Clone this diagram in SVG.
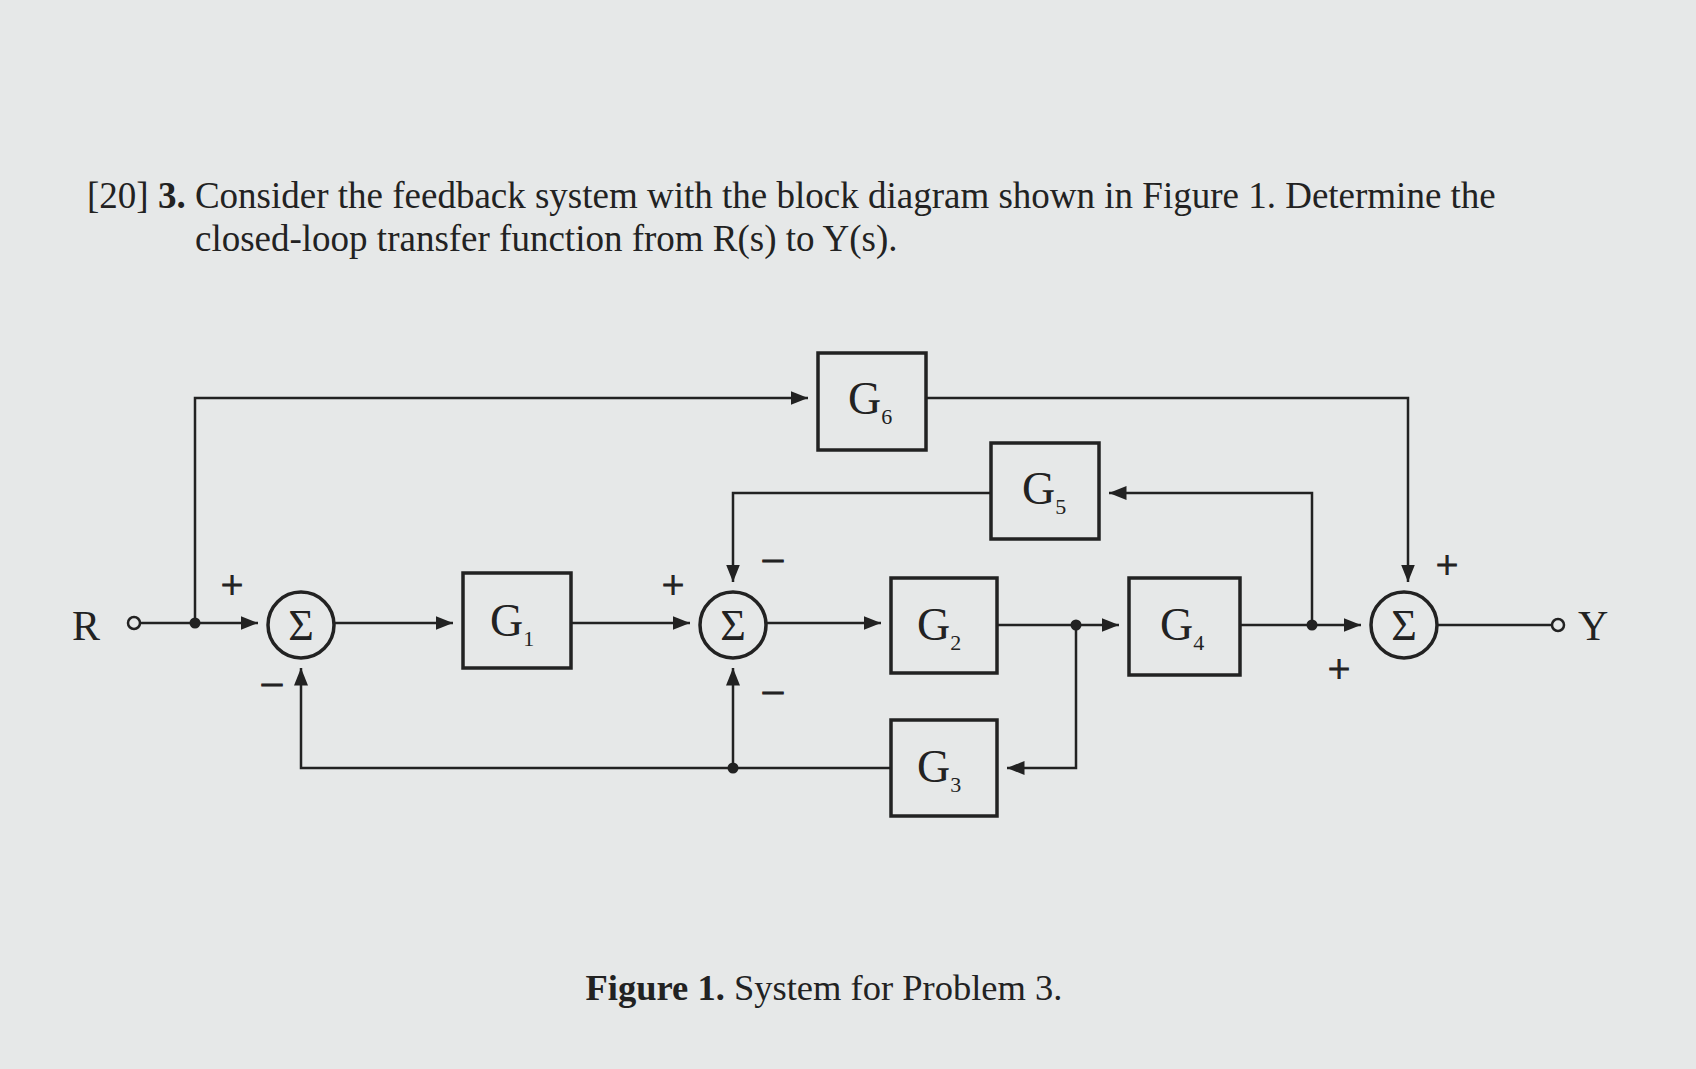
<svg xmlns="http://www.w3.org/2000/svg" width="1696" height="1069" viewBox="0 0 1696 1069">
<defs>
<style>
text{font-family:"Liberation Serif","Times New Roman",serif;fill:#222}
.b{fill:none;stroke:#222;stroke-width:3.5}
.w{fill:none;stroke:#222;stroke-width:2.5}
.g{font-size:46px}
.sub{font-size:22px}
.s{font-size:44px}
.sig{font-size:40px;stroke:#222;stroke-width:1}
</style>
<marker id="a" viewBox="0 0 10 10" refX="10" refY="5" markerWidth="7" markerHeight="7" orient="auto-start-reverse" markerUnits="strokeWidth"><path d="M0,1 L10,5 L0,9 z" fill="#222"/></marker>
</defs>
<rect width="1696" height="1069" fill="#e6e8e8"/>
<text x="87" y="208" font-size="37">[20] <tspan font-weight="bold">3.</tspan> Consider the feedback system with the block diagram shown in Figure 1. Determine the</text>
<text x="195" y="251" font-size="37">closed-loop transfer function from R(s) to Y(s).</text>
<g id="connectors">
<path class="w" d="M140,623 H258" marker-end="url(#a)"/>
<path class="w" d="M195,623 V398 H808" marker-end="url(#a)"/>
<path class="w" d="M334,623 H453" marker-end="url(#a)"/>
<path class="w" d="M571,623 H690" marker-end="url(#a)"/>
<path class="w" d="M766,623 H881" marker-end="url(#a)"/>
<path class="w" d="M997,625 H1119" marker-end="url(#a)"/>
<path class="w" d="M1240,625 H1361" marker-end="url(#a)"/>
<path class="w" d="M1437,625 H1552"/>
<path class="w" d="M926,398 H1408 V582" marker-end="url(#a)"/>
<path class="w" d="M1312,625 V493 H1109" marker-end="url(#a)"/>
<path class="w" d="M991,493 H733 V582" marker-end="url(#a)"/>
<path class="w" d="M1076,625 V768 H1007" marker-end="url(#a)"/>
<path class="w" d="M891,768 H301 V668" marker-end="url(#a)"/>
<path class="w" d="M733,768 V668" marker-end="url(#a)"/>
<circle cx="195" cy="623" r="5.5" fill="#222"/>
<circle cx="1076" cy="625" r="5.5" fill="#222"/>
<circle cx="1312" cy="625" r="5.5" fill="#222"/>
<circle cx="733" cy="768" r="5.5" fill="#222"/>
</g>
<g id="R"><text x="72" y="640" font-size="42">R</text><circle cx="134" cy="623" r="6" fill="#e6e8e8" stroke="#222" stroke-width="2.5"/></g>
<g id="Y"><circle cx="1558" cy="625" r="6" fill="#e6e8e8" stroke="#222" stroke-width="2.5"/><text x="1578" y="640" font-size="42">Y</text></g>
<g id="sum1"><circle cx="301" cy="625" r="33" class="b"/><text x="301" y="640" text-anchor="middle" class="s">Σ</text><text x="232" y="598" class="sig" text-anchor="middle">+</text><text x="272" y="694" class="sig" text-anchor="middle">–</text></g>
<g id="sum2"><circle cx="733" cy="625" r="33" class="b"/><text x="733" y="640" text-anchor="middle" class="s">Σ</text><text x="673" y="598" class="sig" text-anchor="middle">+</text><text x="773" y="570" class="sig" text-anchor="middle">–</text><text x="773" y="702" class="sig" text-anchor="middle">–</text></g>
<g id="sum3"><circle cx="1404" cy="625" r="33" class="b"/><text x="1404" y="640" text-anchor="middle" class="s">Σ</text><text x="1447" y="578" class="sig" text-anchor="middle">+</text><text x="1339" y="682" class="sig" text-anchor="middle">+</text></g>
<g id="G1"><rect x="463" y="573" width="108" height="95" class="b"/><text x="490" y="636" class="g">G<tspan class="sub" dy="10">1</tspan></text></g>
<g id="G2"><rect x="891" y="578" width="106" height="95" class="b"/><text x="917" y="640" class="g">G<tspan class="sub" dy="10">2</tspan></text></g>
<g id="G3"><rect x="891" y="720" width="106" height="96" class="b"/><text x="917" y="782" class="g">G<tspan class="sub" dy="10">3</tspan></text></g>
<g id="G4"><rect x="1129" y="578" width="111" height="97" class="b"/><text x="1160" y="640" class="g">G<tspan class="sub" dy="10">4</tspan></text></g>
<g id="G5"><rect x="991" y="443" width="108" height="96" class="b"/><text x="1022" y="504" class="g">G<tspan class="sub" dy="10">5</tspan></text></g>
<g id="G6"><rect x="818" y="353" width="108" height="97" class="b"/><text x="848" y="414" class="g">G<tspan class="sub" dy="10">6</tspan></text></g>
<text x="824" y="1000" text-anchor="middle" font-size="36.5"><tspan font-weight="bold">Figure 1.</tspan> System for Problem 3.</text>
</svg>
